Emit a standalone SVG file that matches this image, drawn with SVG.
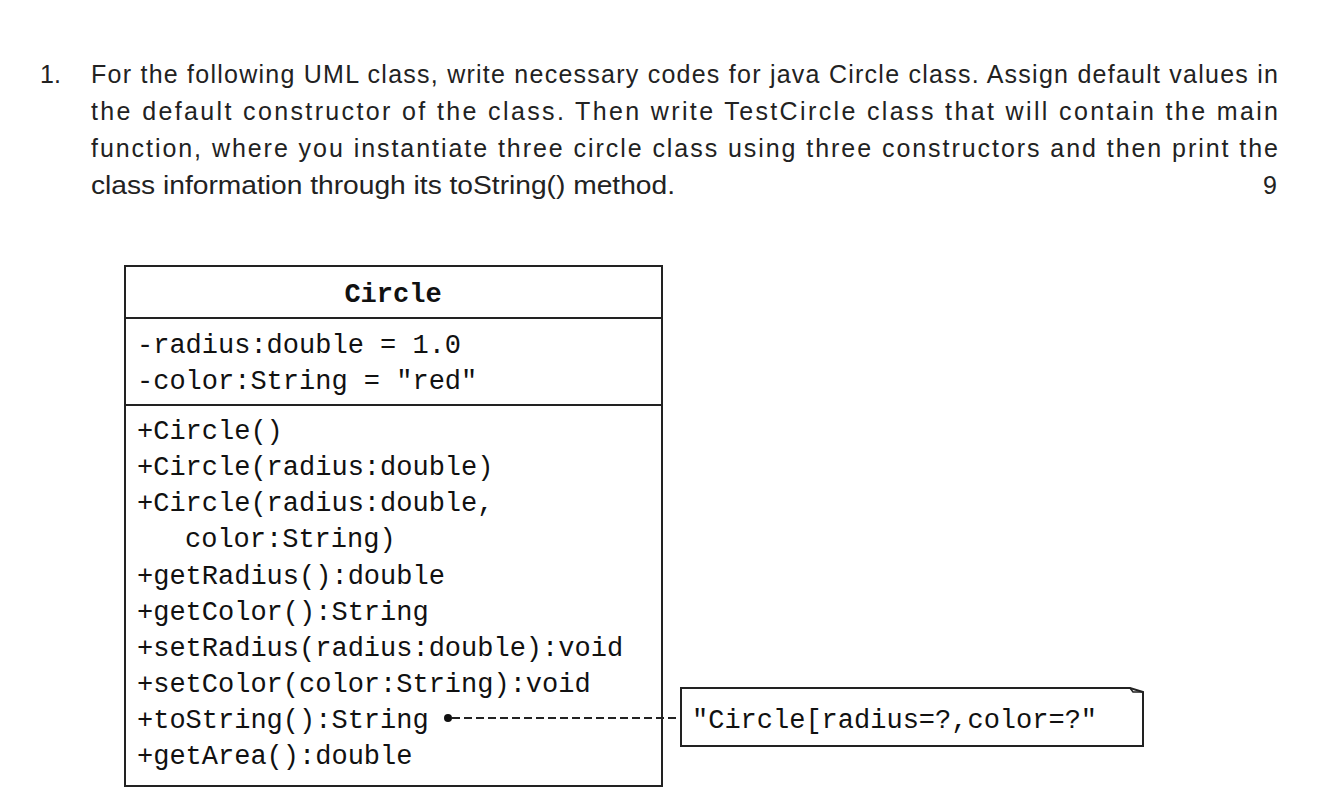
<svg xmlns="http://www.w3.org/2000/svg" width="1336" height="810" viewBox="0 0 1336 810">
<style>
.q{font-family:"Liberation Sans",Arial,sans-serif;font-size:25px;fill:#222}
.m{font-family:"Liberation Mono","DejaVu Sans Mono",monospace;font-size:27px;fill:#111}
.b{fill:#fff;stroke:#222;stroke-width:2}
</style>
<rect width="1336" height="810" fill="#fff"/>
<g id="question">
<text class="q" x="40" y="83">1.</text>
<text class="q" x="91" y="83" textLength="1187" lengthAdjust="spacing">For the following UML class, write necessary codes for java Circle class. Assign default values in</text>
<text class="q" x="91" y="120" textLength="1187" lengthAdjust="spacing">the default constructor of the class. Then write TestCircle class that will contain the main</text>
<text class="q" x="91" y="157" textLength="1187" lengthAdjust="spacing">function, where you instantiate three circle class using three constructors and then print the</text>
<text class="q" x="91" y="194" textLength="584" lengthAdjust="spacingAndGlyphs">class information through its toString() method.</text>
<text class="q" x="1263" y="194">9</text>
</g>
<g id="circle-class">
<rect class="b" x="125" y="266" width="537" height="520"/>
<line x1="125" y1="318" x2="662" y2="318" stroke="#222" stroke-width="2"/>
<line x1="125" y1="405" x2="662" y2="405" stroke="#222" stroke-width="2"/>
<text class="m" x="393" y="302" text-anchor="middle" font-weight="bold" font-size="25">Circle</text>
<text class="m" x="137" y="353">-radius:double = 1.0</text>
<text class="m" x="137" y="389">-color:String = "red"</text>
<text class="m" x="137" y="439">+Circle()</text>
<text class="m" x="137" y="475">+Circle(radius:double)</text>
<text class="m" x="137" y="511">+Circle(radius:double,</text>
<text class="m" x="185" y="547">color:String)</text>
<text class="m" x="137" y="584">+getRadius():double</text>
<text class="m" x="137" y="620">+getColor():String</text>
<text class="m" x="137" y="656">+setRadius(radius:double):void</text>
<text class="m" x="137" y="692">+setColor(color:String):void</text>
<text class="m" x="137" y="728">+toString():String</text>
<text class="m" x="137" y="764">+getArea():double</text>
</g>
<g id="note">
<path class="b" d="M681 688 H1130 L1143 692 V746 H681 Z"/>
<path d="M1130 688 L1133 692 H1143" fill="none" stroke="#222" stroke-width="1.5"/>
<text class="m" x="692" y="728">"Circle[radius=?,color=?"</text>
</g>
<g id="connectors">
<circle cx="448" cy="718" r="4" fill="#111"/>
<line x1="452" y1="718" x2="681" y2="718" stroke="#222" stroke-width="2" stroke-dasharray="8,4"/>
</g>
</svg>
